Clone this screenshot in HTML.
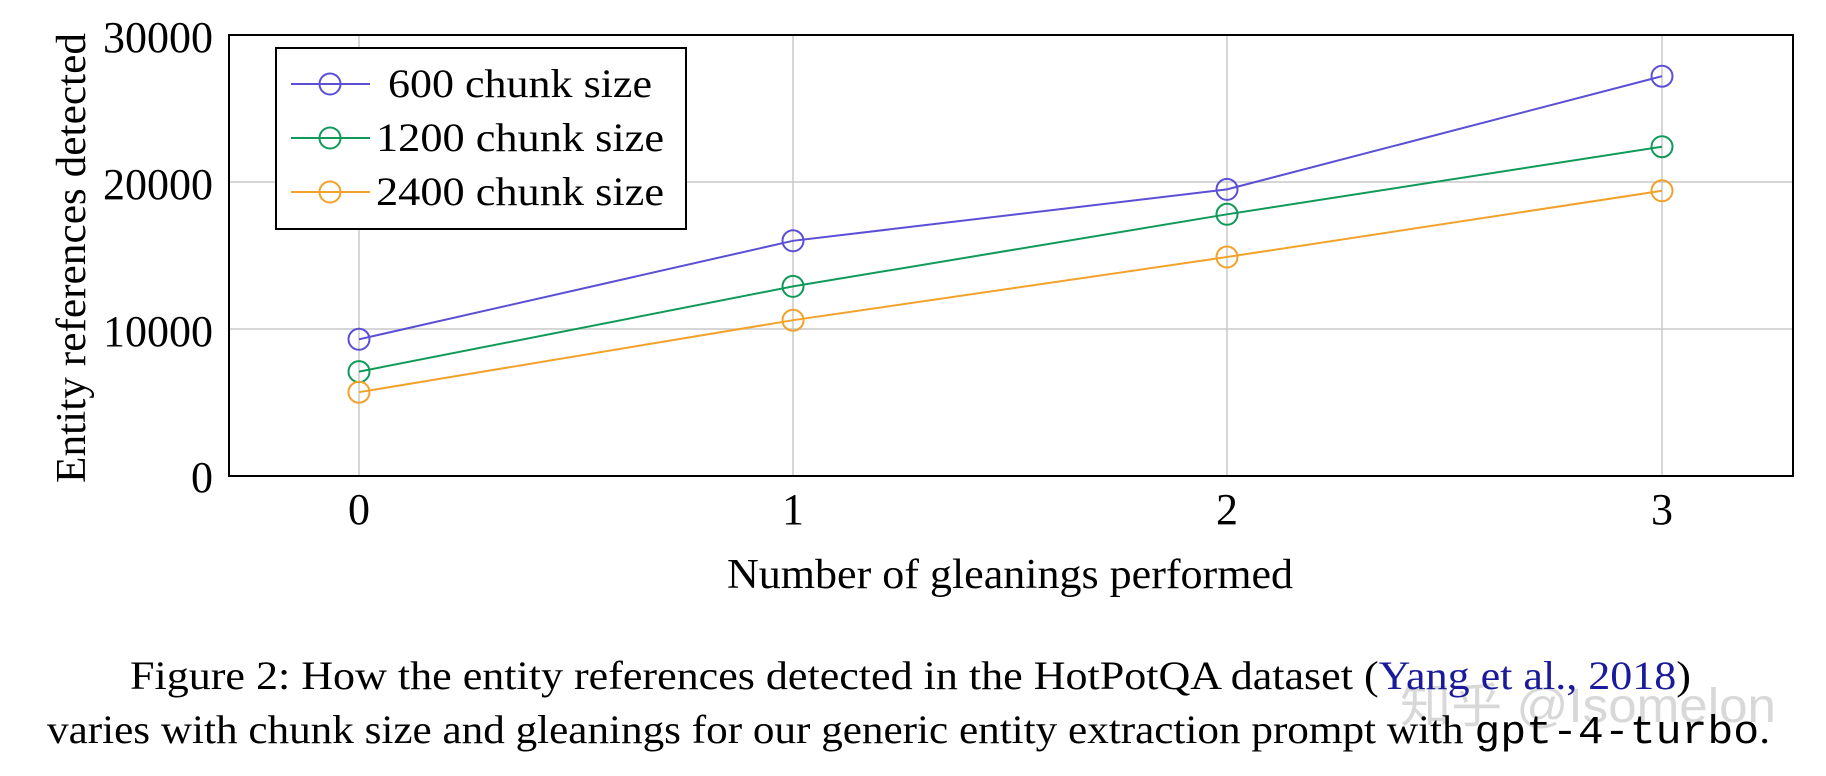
<!DOCTYPE html>
<html><head><meta charset="utf-8"><style>
html,body{margin:0;padding:0;background:#fff;}
svg{display:block;font-family:"Liberation Serif",serif;}
</style></head><body>
<svg width="1826" height="776" viewBox="0 0 1826 776" xmlns="http://www.w3.org/2000/svg">
<g stroke="#c8c8c8" stroke-width="1.5">
<line x1="359" y1="35" x2="359" y2="476"/>
<line x1="793" y1="35" x2="793" y2="476"/>
<line x1="1227" y1="35" x2="1227" y2="476"/>
<line x1="1662" y1="35" x2="1662" y2="476"/>
<line x1="229" y1="329" x2="1793" y2="329"/>
<line x1="229" y1="182" x2="1793" y2="182"/>
</g>
<rect x="229" y="35" width="1564" height="441" fill="none" stroke="#000" stroke-width="2"/>
<g fill="none" stroke-width="2">
<polyline stroke="#5b4fd6" points="359,339.3 793,240.8 1227,189.4 1662,76.2"/>
<polyline stroke="#0f9a5a" points="359,371.6 793,286.4 1227,214.3 1662,146.7"/>
<polyline stroke="#f2a22a" points="359,392.2 793,320.2 1227,257.0 1662,190.8"/>
<g stroke="#5b4fd6"><circle cx="359" cy="339.3" r="10.5"/><circle cx="793" cy="240.8" r="10.5"/><circle cx="1227" cy="189.4" r="10.5"/><circle cx="1662" cy="76.2" r="10.5"/></g>
<g stroke="#0f9a5a"><circle cx="359" cy="371.6" r="10.5"/><circle cx="793" cy="286.4" r="10.5"/><circle cx="1227" cy="214.3" r="10.5"/><circle cx="1662" cy="146.7" r="10.5"/></g>
<g stroke="#f2a22a"><circle cx="359" cy="392.2" r="10.5"/><circle cx="793" cy="320.2" r="10.5"/><circle cx="1227" cy="257.0" r="10.5"/><circle cx="1662" cy="190.8" r="10.5"/></g>
</g>
<rect x="276" y="48" width="410" height="181" fill="#fff" stroke="#000" stroke-width="2"/>
<g fill="none" stroke-width="2">
<line x1="291" y1="84" x2="370" y2="84" stroke="#5b4fd6"/><circle cx="330" cy="84" r="10.5" stroke="#5b4fd6"/>
<line x1="291" y1="138" x2="370" y2="138" stroke="#0f9a5a"/><circle cx="330" cy="138" r="10.5" stroke="#0f9a5a"/>
<line x1="291" y1="192" x2="370" y2="192" stroke="#f2a22a"/><circle cx="330" cy="192" r="10.5" stroke="#f2a22a"/>
</g>
<g font-size="40" fill="#000">
<text x="388" y="97" textLength="264" lengthAdjust="spacingAndGlyphs">600 chunk size</text>
<text x="376" y="151" textLength="288" lengthAdjust="spacingAndGlyphs">1200 chunk size</text>
<text x="376" y="205" textLength="288" lengthAdjust="spacingAndGlyphs">2400 chunk size</text>
</g>
<g font-size="44" fill="#000" text-anchor="end">
<text x="213" y="52">30000</text>
<text x="213" y="199">20000</text>
<text x="213" y="346">10000</text>
<text x="213" y="492">0</text>
</g>
<g font-size="44" fill="#000" text-anchor="middle">
<text x="359" y="524">0</text>
<text x="793" y="524">1</text>
<text x="1227" y="524">2</text>
<text x="1662" y="524">3</text>
</g>
<text x="727" y="588" font-size="42" textLength="566" lengthAdjust="spacingAndGlyphs">Number of gleanings performed</text>
<text transform="translate(85,483) rotate(-90)" font-size="42" textLength="450" lengthAdjust="spacingAndGlyphs">Entity references detected</text>
<text x="1400" y="722" font-size="48" fill="#d8d8d8" font-family="'Liberation Sans','Noto Sans CJK SC',sans-serif" textLength="376" lengthAdjust="spacingAndGlyphs">知乎 @Isomelon</text>
<text x="130" y="689" font-size="40" textLength="1561" lengthAdjust="spacingAndGlyphs">Figure 2: How the entity references detected in the HotPotQA dataset (<tspan fill="#1a1a9a">Yang et al., 2018</tspan>)</text>
<text x="47" y="743" font-size="40" textLength="1723" lengthAdjust="spacingAndGlyphs">varies with chunk size and gleanings for our generic entity extraction prompt with <tspan font-family="'Liberation Mono',monospace">gpt-4-turbo</tspan>.</text>
</svg>
</body></html>
